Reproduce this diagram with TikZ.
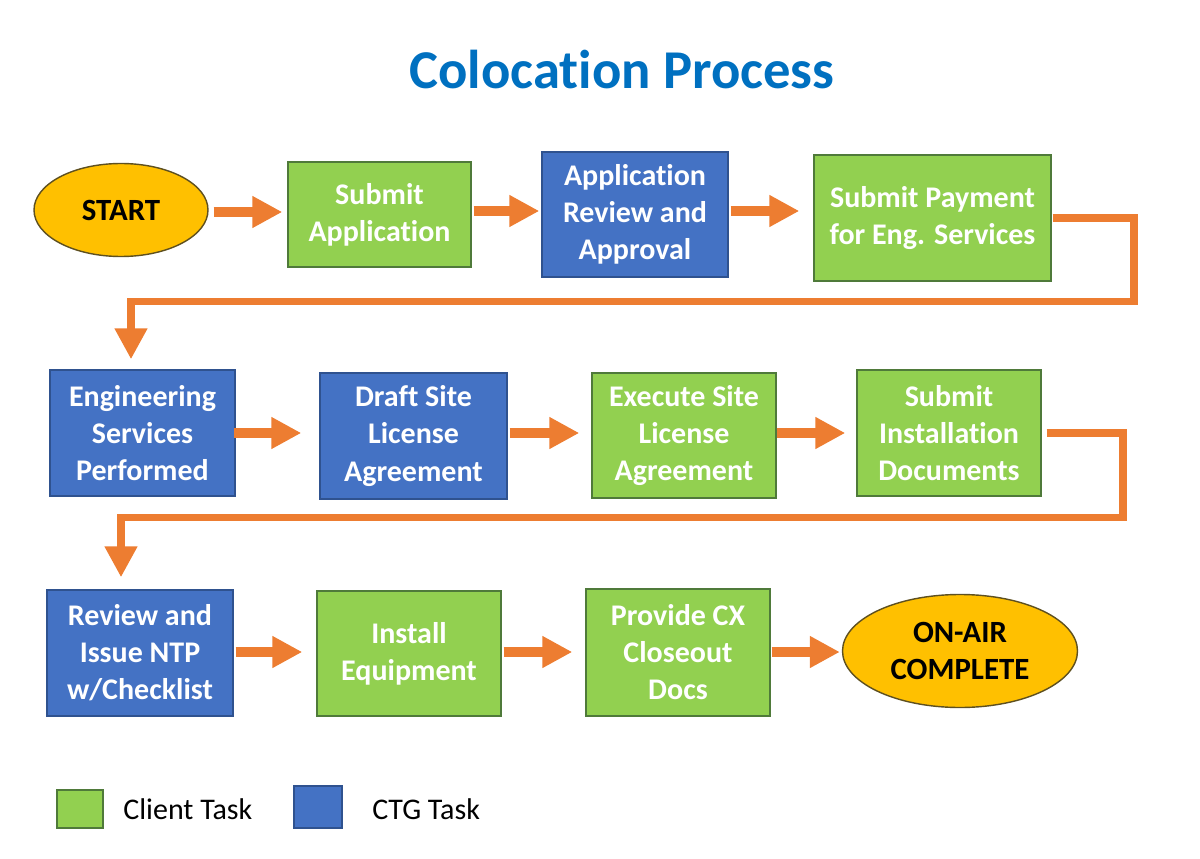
\documentclass[tikz,border=0pt]{standalone}
\usepackage{fontspec}
\setmainfont{Carlito}[Ligatures=NoCommon]
\usetikzlibrary{arrows.meta,shapes.geometric,calc}
\definecolor{cgreen}{HTML}{92D050}
\definecolor{cgreenb}{HTML}{4F7A3A}
\definecolor{cblue}{HTML}{4472C4}
\definecolor{cblueb}{HTML}{2F528F}
\definecolor{cgold}{HTML}{FFC000}
\definecolor{cgoldb}{HTML}{5E5020}
\definecolor{corange}{HTML}{ED7D31}
\definecolor{ctitle}{HTML}{0070C0}
\def\PX{0.5669pt}
\begin{document}
\begin{tikzpicture}[x=0.5669pt,y=-0.5669pt,
  sz/.style 2 args={minimum width=#1*\PX, minimum height=#2*\PX},
  box/.style={rectangle, draw, line width=0.8pt, text=white, inner sep=0pt,
    font=\bfseries\fontsize{17}{21}\selectfont, align=center},
  cbox/.style={box, fill=cgreen, draw=cgreenb},
  tbox/.style={box, fill=cblue, draw=cblueb},
  term/.style={ellipse, draw=cgoldb, fill=cgold, line width=0.8pt, inner sep=0pt,
    text=black, font=\bfseries\fontsize{17.5}{21}\selectfont, align=center},
  harrow/.style={draw=corange, line width=6.2pt, -{Triangle[length=17pt,width=17pt]}},
  varrow/.style={draw=corange, line width=4.3pt, -{Triangle[length=17.5pt,width=17.5pt]}},
  legtext/.style={anchor=base west, inner sep=0pt, font=\fontsize{17}{21}\selectfont, text=black}
]
\useasboundingbox (0,0) rectangle (1200,859);

\node[font=\bfseries\fontsize{31}{37}\selectfont, text=ctitle, anchor=base] (title) at (622,89) {Colocation Process};

% row 1
\node[term, sz={174}{93}] (start) at (121,210) {START};
\node[cbox, sz={183}{105}] (sa) at (379.5,214.5) {Submit\\Application};
\node[tbox, sz={186}{125}] (ara) at (635,214.5) {Application\\Review and\\Approval};
\node[cbox, sz={237}{126}] (sp) at (932.5,218) {Submit Payment\\for Eng. Services};

% row 2
\node[tbox, sz={185}{126}] (esp) at (142.5,433) {Engineering\\Services\\Performed};
\node[tbox, sz={187}{126}] (dsl) at (413.5,436) {Draft Site\\License\\Agreement};
\node[cbox, sz={184}{125}] (esl) at (684,435.5) {Execute Site\\License\\Agreement};
\node[cbox, sz={184}{126}] (sid) at (949,433) {Submit\\Installation\\Documents};

% row 3
\node[tbox, sz={186}{126}] (rin) at (140,653) {Review and\\Issue NTP\\w/Checklist};
\node[cbox, sz={184}{125}] (ie) at (409,653.5) {Install\\Equipment};
\node[cbox, sz={184}{127}] (pcx) at (678,652.5) {Provide CX\\Closeout\\Docs};
\node[term, sz={235}{113}] (onair) at (960,651) {ON-AIR\\COMPLETE};

% arrows row 1
\draw[harrow] ($(start.east)+(5,2)$) -- ($(sa.west|-start.east)+(-5,2)$);
\draw[harrow] ($(sa.east)+(2,-3.5)$) -- ($(ara.west|-sa.east)+(-2,-3.5)$);
\draw[harrow] ($(ara.east)+(2,-3.5)$) -- ($(sp.west|-ara.east)+(-14,-3.5)$);
% elbow 1
\draw[varrow] ($(sp.east)+(1,0)$) -- ++(81,0) |- ($(esp.north)+(-11.5,-68)$) -- ($(esp.north)+(-11.5,-10)$);
% arrows row 2
\draw[harrow] ($(esp.east)+(-2,0)$) -- ($(dsl.west|-esp.east)+(-18,0)$);
\draw[harrow] ($(dsl.east)+(2,-3)$) -- ($(esl.west|-dsl.east)+(-12,-3)$);
\draw[harrow] ($(esl.east)+(0,-2.5)$) -- ($(sid.west|-esl.east)+(-11,-2.5)$);
% elbow 2
\draw[varrow] ($(sid.east)+(5,0)$) -- ++(76,0) |- ($(rin.north)+(-19,-72)$) -- ($(rin.north)+(-19,-12)$);
% arrows row 3
\draw[harrow] ($(rin.east)+(2,-1)$) -- ($(ie.west|-rin.east)+(-14,-1)$);
\draw[harrow] ($(ie.east)+(2,-1.5)$) -- ($(pcx.west|-ie.east)+(-13,-1.5)$);
\draw[harrow] ($(pcx.east)+(1,-0.5)$) -- ($(onair.west|-pcx.east)+(-2,-0.5)$);

% legend
\node[rectangle, draw=cgreenb, fill=cgreen, line width=0.8pt, sz={46}{38}, inner sep=0pt] (lg1) at (80,809) {};
\node[legtext] (lt1) at (123,819) {Client Task};
\node[rectangle, draw=cblueb, fill=cblue, line width=0.8pt, sz={48}{42}, inner sep=0pt] (lg2) at (318,807) {};
\node[legtext] (lt2) at (372,819) {CTG Task};
\end{tikzpicture}
\end{document}
